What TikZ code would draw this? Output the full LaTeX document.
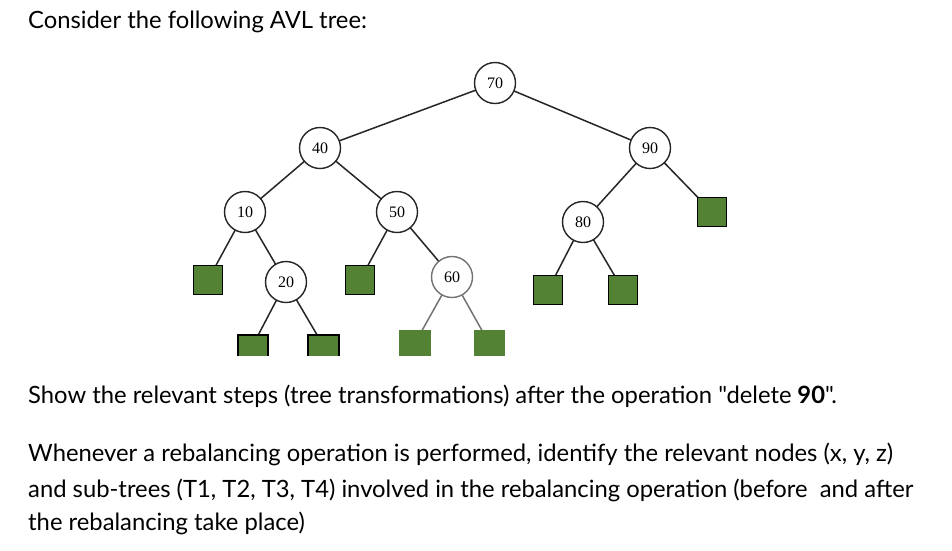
\documentclass[tikz,border=0pt]{standalone}
\usepackage{fontspec}
\setmainfont{Lato}[Ligatures=TeXOff]
\newfontfamily\serifnum{Liberation Serif}
\begin{document}
\begin{tikzpicture}[x=1pt,y=-1pt,
  kn/.style={circle,draw=black!85,line width=1.4pt,fill=white,minimum size=41pt,inner sep=0pt,font=\serifnum\fontsize{16}{16}\selectfont},
  kg/.style={kn,draw=black!55},
  lf/.style={rectangle,draw=black,line width=1.3pt,minimum size=29pt,inner sep=0pt},
  ed/.style={line width=1.5pt,black!85},
  eg/.style={line width=1.5pt,black!55},
  tx/.style={anchor=base west,inner sep=0pt,font=\fontsize{23.8}{24}\selectfont}]
\useasboundingbox (0,0) rectangle (952,550);
\fill[white] (0,0) rectangle (952,550);
\definecolor{leafg}{RGB}{84,130,53}
\tikzset{lf/.append style={fill=leafg}}
\coordinate (n70) at (495,83);
\coordinate (n40) at (320,148);
\coordinate (n90) at (650,148);
\coordinate (n10) at (245,212);
\coordinate (n50) at (397,212);
\coordinate (n80) at (583,222);
\coordinate (n20) at (286,282);
\coordinate (n60) at (452,277);
\coordinate (l90) at (712,212);
\coordinate (l10) at (208,280);
\coordinate (l50) at (360,280);
\coordinate (l80a) at (548,290);
\coordinate (l80b) at (623,290);
\coordinate (l20a) at (253,345);
\coordinate (l20b) at (323,345);
\coordinate (l60a) at (415,343);
\coordinate (l60b) at (489,343);
\draw[ed] (n70)--(n40) (n70)--(n90) (n40)--(n10) (n40)--(n50) (n90)--(n80) (n90)--(l90)
 (n10)--(l10) (n10)--(n20) (n50)--(l50) (n50)--(n60) (n80)--(l80a) (n80)--(l80b)
 (n20)--(l20a) (n20)--(l20b);
\draw[eg] (n60)--(l60a) (n60)--(l60b);
\node[kn] (a70) at (n70) {70};
\node[kn] (a40) at (n40) {40};
\node[kn] (a90) at (n90) {90};
\node[kn] (a10) at (n10) {10};
\node[kn] (a50) at (n50) {50};
\node[kn] (a80) at (n80) {80};
\node[kn] (a20) at (n20) {20};
\node[kg] (a60) at (n60) {60};
\node[lf] (b90) at (l90) {};
\node[lf] (b10) at (l10) {};
\node[lf] (b50) at (l50) {};
\node[lf] (b80a) at (l80a) {};
\node[lf] (b80b) at (l80b) {};
\fill[leafg] (238,335) rectangle (268,356);
\fill[leafg] (308,335) rectangle (339,356);
\fill[leafg] (399,330) rectangle (431,356);
\fill[leafg] (474,330) rectangle (505,356);
\draw[black,line width=1.3pt] (238,356)--(238,335)--(268,335)--(268,356) (308,356)--(308,335)--(339,335)--(339,356);
\node[tx] (t1) at (28,28) {Consider the following AVL tree:};
\node[tx] (t2) at (28,403) {Show the relevant steps (tree transformations) after the operation "delete \textbf{90}".};
\node[tx] (t3) at (28,461) {Whenever a rebalancing operation is performed, identify the relevant nodes (x, y, z)};
\node[tx] (t4) at (28,497) {and sub-trees (T1, T2, T3, T4) involved in the rebalancing operation (before\ \ and after};
\node[tx] (t5) at (28,530) {the rebalancing take place)};
\end{tikzpicture}
\end{document}
